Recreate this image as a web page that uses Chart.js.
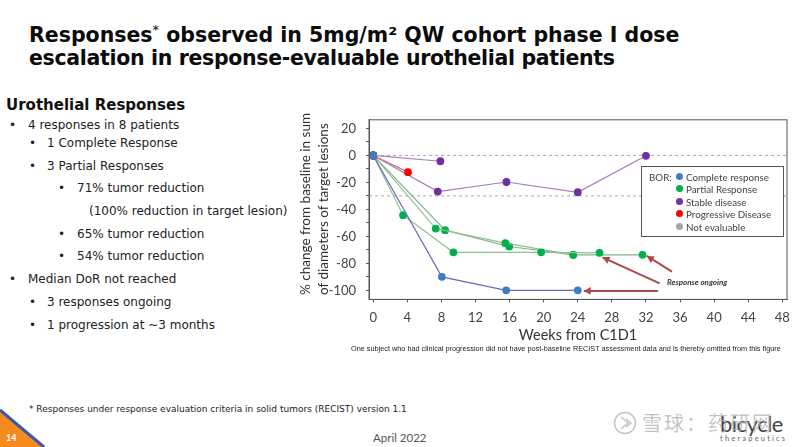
<!DOCTYPE html>
<html>
<head>
<meta charset="utf-8">
<script src="https://cdn.jsdelivr.net/npm/chart.js@4"></script>
<style>
    html, body { margin: 0; padding: 0; background: #fff; }
    body { position: relative; width: 800px; height: 447px; overflow: hidden; font-family: "DejaVu Sans", sans-serif; color: #111; }
    .txt { position: absolute; white-space: nowrap; }
    .title { left: 29px; font-weight: bold; font-size: 20.5px; line-height: 24px; color: #0c0c0c; }
    .title sup { font-size: 13px; line-height: 0; font-weight: normal; }
    .heading { left: 6px; top: 96px; font-weight: bold; font-size: 15px; color: #111; }
    .bullet { font-size: 12px; color: #222; }
    #chart-box { position: absolute; left: 290px; top: 101.9px; width: 510px; height: 244.1px; }
    .y-title { position: absolute; left: 297px; top: 295px; transform-origin: 0 0; transform: rotate(-90deg); font: 13.5px/17.5px Lato, sans-serif; color: #333; white-space: nowrap; text-align: left; }
    .legend { position: absolute; left: 641px; top: 166px; width: 143px; height: 71px; border: 1px solid #555; box-sizing: border-box; background: #fff; font-family: Lato, sans-serif; font-size: 9.8px; color: #444; }
    .legend .bor { position: absolute; left: 7px; top: 4px; }
    .legend .row { position: absolute; left: 37px; white-space: nowrap; }
    .legend .dot { position: absolute; left: -3px; top: 2px; width: 7px; height: 7px; border-radius: 50%; }
    .legend .name { margin-left: 7px; }
</style>
</head>
<body>

<div class="txt title" style="top:23px">Responses<sup>*</sup> observed in 5mg/m² QW cohort phase I dose</div>
<div class="txt title" style="top:46px;letter-spacing:-0.33px">escalation in response-evaluable urothelial patients</div>

<div class="txt heading">Urothelial Responses</div>
<div id="bullets"></div>

<div id="chart-box"><canvas id="responses"></canvas></div>
<div class="y-title">% change from baseline in sum<br>of diameters of target lesions</div>
<div class="legend" id="legend"><span class="bor">BOR:</span></div>
<div class="txt" style="left:667px;top:277px;font:italic bold 8px Lato, sans-serif;color:#333">Response ongoing</div>

<div class="txt" style="left:351px;top:344px;font:7.3px 'Liberation Sans', sans-serif;color:#222">One subject who had clinical progression did not have post-baseline RECIST assessment data and is thereby omitted from this figure</div>
<div class="txt" style="left:29px;top:404px;font-size:9px;color:#222">* Responses under response evaluation criteria in solid tumors (RECIST) version 1.1</div>
<div class="txt" style="left:373px;top:431px;font:11.5px Lato, sans-serif;color:#555">April 2022</div>

<svg style="position:absolute;left:0;top:405px" width="48" height="42">
    <path d="M0 5 Q20 22 44 42 L0 42 Z" fill="#f58a1f"/>
    <path d="M0 5 Q20 22 44 42" fill="none" stroke="#3c56a8" stroke-width="3"/>
</svg>
<div class="txt" style="left:6px;top:432px;font:bold 9px Lato, sans-serif;color:#fff">14</div>

<div class="txt" style="left:720px;top:410px;font:22px Lato, sans-serif;color:#444;letter-spacing:-0.5px">bicycle</div>
<div class="txt" style="left:720px;top:434px;font:7.5px Lato, sans-serif;color:#666;letter-spacing:2.2px">therapeutics</div>
<svg style="position:absolute;left:612px;top:410px" width="26" height="26">
    <circle cx="13" cy="13" r="10.5" fill="none" stroke="#c4c4c4" stroke-width="1.5"/>
    <path d="M9 7 L16 13 L9 19 M14 9 L19 13 L14 17" fill="none" stroke="#c4c4c4" stroke-width="1.5"/>
</svg>
<div class="txt" style="left:642px;top:408px;font:20px 'Noto Sans CJK SC', sans-serif;color:rgba(170,170,170,0.7);letter-spacing:2px">雪球：药研网</div>

<script>
// chart values
const cr_weeks = [0, 8.05, 15.6, 24]
const cr_change = [0, -90, -100, -100]

const pr1_weeks = [0, 3.5, 9.4, 19.7, 26.55]
const pr1_change = [0, -44.3, -71.8, -71.8, -72.2]
const pr2_weeks = [0, 7.33, 15.5, 23.46]
const pr2_change = [0, -54.2, -65, -73.7]
const pr3_weeks = [0, 8.43, 15.95, 23.46, 31.6]
const pr3_change = [0, -55.4, -67.5, -73.7, -73.7]

const sd1_weeks = [0, 7.88]
const sd1_change = [0, -4.3]
const sd2_weeks = [0, 7.57, 15.63, 24, 32]
const sd2_change = [0, -26.8, -19.7, -27.3, -0.3]

const pd_weeks = [0, 4.08]
const pd_change = [0, -12.4]

const ref_lines = [0, -30]
const x_ticks = [0, 4, 8, 12, 16, 20, 24, 28, 32, 36, 40, 44, 48]
const y_ticks = [20, 10, 0, -10, -20, -30, -40, -50, -60, -70, -80, -90, -100]

const legend_names = ['Complete response', 'Partial Response', 'Stable disease', 'Progressive Disease', 'Not evaluable']
const legend_colors = ['#3f7fc0', '#00b050', '#7030a0', '#ff0000', '#a6a6a6']

// "response ongoing" arrows: [tail week, tail %, head week, head %]
const arrows = [
    [35.05, -86.1, 32.1, -74.5],
    [33.6, -94.8, 26.9, -75.5],
    [33.4, -100.4, 24.7, -100.4]
]

// left hand text: [left, top, dot left, text]
const bullet_lines = [
    [28, 118, 9, '4 responses in 8 patients'],
    [47, 136, 29, '1 Complete Response'],
    [47, 159, 29, '3 Partial Responses'],
    [77, 181, 58, '71% tumor reduction'],
    [89, 204, null, '(100% reduction in target lesion)'],
    [77, 227, 58, '65% tumor reduction'],
    [77, 249, 58, '54% tumor reduction'],
    [28, 272, 9, 'Median DoR not reached'],
    [47, 295, 29, '3 responses ongoing'],
    [47, 318, 29, '1  progression at ~3 months']
]

for (line of bullet_lines) {
    dot = line[2] === null ? '' : `<div class="txt bullet" style="left:${line[2]}px;top:${line[1]}px">•</div>`
    document.getElementById('bullets').innerHTML +=
    `
        ${dot}
        <div class="txt bullet" style="left:${line[0]}px;top:${line[1]}px">${line[3]}</div>
    `
}

legend_names.forEach((name, i) => {
    document.getElementById('legend').innerHTML +=
    `
        <div class="row" style="top:${4 + i * 12.4}px">
            <span class="dot" style="background:${legend_colors[i]}"></span>
            <span class="name">${name}</span>
        </div>
    `
})

function toPoints(weeks, change) {
    return weeks.map((w, i) => ({x: w, y: change[i]}))
}

function series(weeks, change, line, dot) {
    return {
        data: toPoints(weeks, change),
        showLine: true,
        borderColor: line,
        borderWidth: 1.2,
        backgroundColor: dot,
        pointBackgroundColor: dot,
        pointBorderColor: dot,
        pointRadius: 3.3
    }
}

const x_min = -0.5
const x_max = 48.55
const y_min = -106.7
const y_max = 26.4

function refLine(value) {
    return {
        data: [{x: x_min, y: value}, {x: x_max, y: value}],
        showLine: true,
        borderColor: '#a8a8a8',
        borderWidth: 1,
        borderDash: [3, 3],
        pointRadius: 0
    }
}

// box around the plot and the red arrows
const extras = {
    id: 'extras',
    afterDatasetsDraw(chart) {
        const ctx = chart.ctx
        const area = chart.chartArea
        const sx = chart.scales.x
        const sy = chart.scales.y

        ctx.save()
        ctx.strokeStyle = '#555'
        ctx.lineWidth = 1
        ctx.strokeRect(area.left, area.top, area.right - area.left, area.bottom - area.top)

        ctx.strokeStyle = '#a84a48'
        ctx.fillStyle = '#a84a48'
        ctx.lineWidth = 2
        for (a of arrows) {
            x0 = sx.getPixelForValue(a[0])
            y0 = sy.getPixelForValue(a[1])
            x1 = sx.getPixelForValue(a[2])
            y1 = sy.getPixelForValue(a[3])
            angle = Math.atan2(y1 - y0, x1 - x0)
            ctx.beginPath()
            ctx.moveTo(x0, y0)
            ctx.lineTo(x1, y1)
            ctx.stroke()
            ctx.beginPath()
            ctx.moveTo(x1, y1)
            ctx.lineTo(x1 - 8 * Math.cos(angle - 0.5), y1 - 8 * Math.sin(angle - 0.5))
            ctx.lineTo(x1 - 8 * Math.cos(angle + 0.5), y1 - 8 * Math.sin(angle + 0.5))
            ctx.closePath()
            ctx.fill()
        }
        ctx.restore()
    }
}

new Chart(document.getElementById('responses'), {
    type: 'scatter',
    data: {
        datasets: [
            series(cr_weeks, cr_change, '#6a6ab8', '#3f7fc0'),
            series(pd_weeks, pd_change, '#c9708a', '#ff0000'),
            series(sd1_weeks, sd1_change, '#a67fb4', '#7030a0'),
            series(sd2_weeks, sd2_change, '#a67fb4', '#7030a0'),
            series(pr1_weeks, pr1_change, '#8fc08f', '#00b050'),
            series(pr2_weeks, pr2_change, '#8fc08f', '#00b050'),
            series(pr3_weeks, pr3_change, '#7fb58a', '#00b050'),
            refLine(ref_lines[0]),
            refLine(ref_lines[1])
        ]
    },
    options: {
        animation: false,
        responsive: true,
        maintainAspectRatio: false,
        layout: {padding: {top: 10, right: 13, left: 0, bottom: 2}},
        plugins: {legend: {display: false}, tooltip: {enabled: false}},
        scales: {
            x: {
                type: 'linear',
                min: x_min,
                max: x_max,
                afterBuildTicks: (axis) => { axis.ticks = x_ticks.map((v) => ({value: v})) },
                afterFit: (axis) => { axis.height = 44.7 },
                grid: {drawOnChartArea: false, color: '#555', tickLength: 3},
                border: {color: '#555'},
                ticks: {color: '#444', font: {family: 'Lato', size: 13}, padding: 8, maxRotation: 0, autoSkip: false},
                title: {display: true, text: 'Weeks from C1D1', color: '#333', font: {family: 'Lato', size: 14.5}, padding: 0}
            },
            y: {
                min: y_min,
                max: y_max,
                afterBuildTicks: (axis) => { axis.ticks = y_ticks.map((v) => ({value: v})) },
                afterFit: (axis) => { axis.width = 79 },
                grid: {drawOnChartArea: false, color: '#555', tickLength: 3},
                border: {color: '#555'},
                ticks: {
                    color: '#444',
                    font: {family: 'Lato', size: 13},
                    padding: 10,
                    autoSkip: false,
                    callback: (value) => (value % 20 === 0 ? value : '')
                }
            }
        }
    },
    plugins: [extras]
})
</script>
</body>
</html>
